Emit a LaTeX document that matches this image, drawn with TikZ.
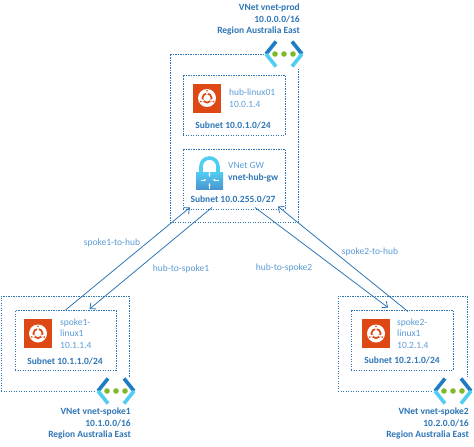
\documentclass[tikz,border=0pt]{standalone}
\usepackage{fontspec}
\setmainfont{Carlito}
\usetikzlibrary{arrows.meta}
\definecolor{azure}   {HTML}{2E75B6}
\definecolor{soft}    {HTML}{5B9BD5}
\definecolor{ubuntu}  {HTML}{DD4814}
\definecolor{navy}    {HTML}{1C7CC4}
\definecolor{sky}     {HTML}{50CDF2}
\definecolor{leaf}    {HTML}{7DB928}
\tikzset{
  vnetbox/.style={draw=azure, line width=0.9pt, dash pattern=on 1.2pt off 1.3pt, inner sep=0pt},
  hostlabel/.style={anchor=west, text=soft, align=left, inner sep=0pt, font=\fontsize{9.5}{11.7}\selectfont},
  netlabel/.style={text=azure, font=\fontsize{9.5}{11.7}\selectfont\bfseries, inner sep=0pt},
  peerlabel/.style={text=soft, font=\fontsize{9.5}{11.7}\selectfont, inner sep=0pt},
  peerline/.style={draw=azure, line width=0.8pt, -{Straight Barb[length=4.5pt,width=8pt]}},
  ubuntumark/.pic={
    \fill[ubuntu] (-14,-14.5) rectangle (14,14.5);
    \fill[white] (0,0) circle (9);
    \draw[ubuntu, line width=1.7pt] (0,0) circle (4.6);
    \foreach \a in {30,150,270} {
      \fill[white] (\a:4.6) circle (1.2);
      \fill[ubuntu] (\a:7.2) circle (0.9);
    }
  },
  vnetmark/.pic={
    \fill[white] (-20,-14) rectangle (20,14);
    \draw[navy, line width=3.6pt] (-8,-12.5) -- (-18,0);
    \draw[sky, line width=3.6pt] (-18,0) -- (-8,12.5);
    \draw[navy, line width=3.6pt] (8,-12.5) -- (18,0);
    \draw[sky, line width=3.6pt] (18,0) -- (8,12.5);
    \foreach \x in {-9,0,9} \fill[leaf] (\x,0) circle (2.8);
  },
  lockmark/.pic={
    \draw[sky, line width=3.6pt] (-8.5,-8) -- (-8.5,-13.5) arc[start angle=180, end angle=360, x radius=8.5, y radius=8.5] -- (8.5,-8);
    \shade[top color=sky, bottom color=navy!80] (-13.5,-8) rectangle (13.5,9);
    \foreach \a in {0,90,180,270} {
      \draw[white, line width=0.9pt, -{Stealth[length=3pt]}] (\a:9) -- (\a:3);
    }
  }
}
\begin{document}
\begin{tikzpicture}[x=1pt, y=-1pt]
    \useasboundingbox (0, 0) rectangle (474, 447);

    % --- hub network -------------------------------------------------------
    \node[vnetbox, minimum width=128pt, minimum height=168pt] (vnetProd) at (234, 138) {};
    \node[vnetbox, minimum width=102pt, minimum height=60pt] (subHub) at (234, 105) {};
    \node[vnetbox, minimum width=102pt, minimum height=60pt] (subGw) at (234, 179) {};
    \pic at (207, 98) {ubuntumark};
    \node[hostlabel] (hostHub) at (229, 98) {hub-linux01\\10.0.1.4};
    \node[netlabel] (netHub) at (233, 125) {Subnet 10.0.1.0/24};
    \pic at (209.5, 180) {lockmark};
    \node[hostlabel] (hostGw) at (228, 172) {VNet GW\\\textbf{\textcolor{azure}{vnet-hub-gw}}};
    \node[netlabel] (netGw) at (233, 199) {Subnet 10.0.255.0/27};
    \pic at (284, 54) {vnetmark};
    \node[netlabel, anchor=north east, align=right] (nameProd) at (300, 3.5)
      {VNet vnet-prod\\10.0.0.0/16\\Region Australia East};

    % --- first spoke -------------------------------------------------------
    \node[vnetbox, minimum width=128pt, minimum height=95pt] (vnetSpokeA) at (65, 343.5) {};
    \node[vnetbox, minimum width=101pt, minimum height=60pt] (subSpokeA) at (65.5, 340.5) {};
    \pic at (38, 333.5) {ubuntumark};
    \node[hostlabel] (hostSpokeA) at (60, 333.5) {spoke1-\\linux1\\10.1.1.4};
    \node[netlabel] (netSpokeA) at (65, 361) {Subnet 10.1.1.0/24};
    \pic at (116, 391) {vnetmark};
    \node[netlabel, anchor=north east, align=right] (nameSpokeA) at (131, 407.5)
      {VNet vnet-spoke1\\10.1.0.0/16\\Region Australia East};

    % --- second spoke ------------------------------------------------------
    \node[vnetbox, minimum width=129pt, minimum height=95pt] (vnetSpokeB) at (402.5, 343.5) {};
    \node[vnetbox, minimum width=102pt, minimum height=60pt] (subSpokeB) at (402, 340) {};
    \pic at (376, 333.5) {ubuntumark};
    \node[hostlabel] (hostSpokeB) at (397, 333.5) {spoke2-\\linux1\\10.2.1.4};
    \node[netlabel] (netSpokeB) at (402, 360) {Subnet 10.2.1.0/24};
    \pic at (453, 391) {vnetmark};
    \node[netlabel, anchor=north east, align=right] (nameSpokeB) at (469, 407.5)
      {VNet vnet-spoke2\\10.2.0.0/16\\Region Australia East};

    % --- peerings ----------------------------------------------------------
    \draw[peerline] (subSpokeA.north) -- ([xshift=-44pt, yshift=2pt]subGw.south);
    \draw[peerline] ([xshift=-22pt, yshift=2pt]subGw.south) -- ([xshift=24pt, yshift=1pt]subSpokeA.north);
    \draw[peerline] ([xshift=21pt, yshift=2pt]subGw.south) -- ([xshift=-14pt, yshift=2pt]subSpokeB.north);
    \draw[peerline] ([xshift=6pt, yshift=-2pt]subSpokeB.north) -- ([xshift=44pt, yshift=3pt]subGw.south);
    \node[peerlabel] (peerAhub) at (112, 243) {spoke1-to-hub};
    \node[peerlabel] (peerHubA) at (181, 269) {hub-to-spoke1};
    \node[peerlabel] (peerHubB) at (284, 268) {hub-to-spoke2};
    \node[peerlabel] (peerBhub) at (370, 252) {spoke2-to-hub};
\end{tikzpicture}
\end{document}
